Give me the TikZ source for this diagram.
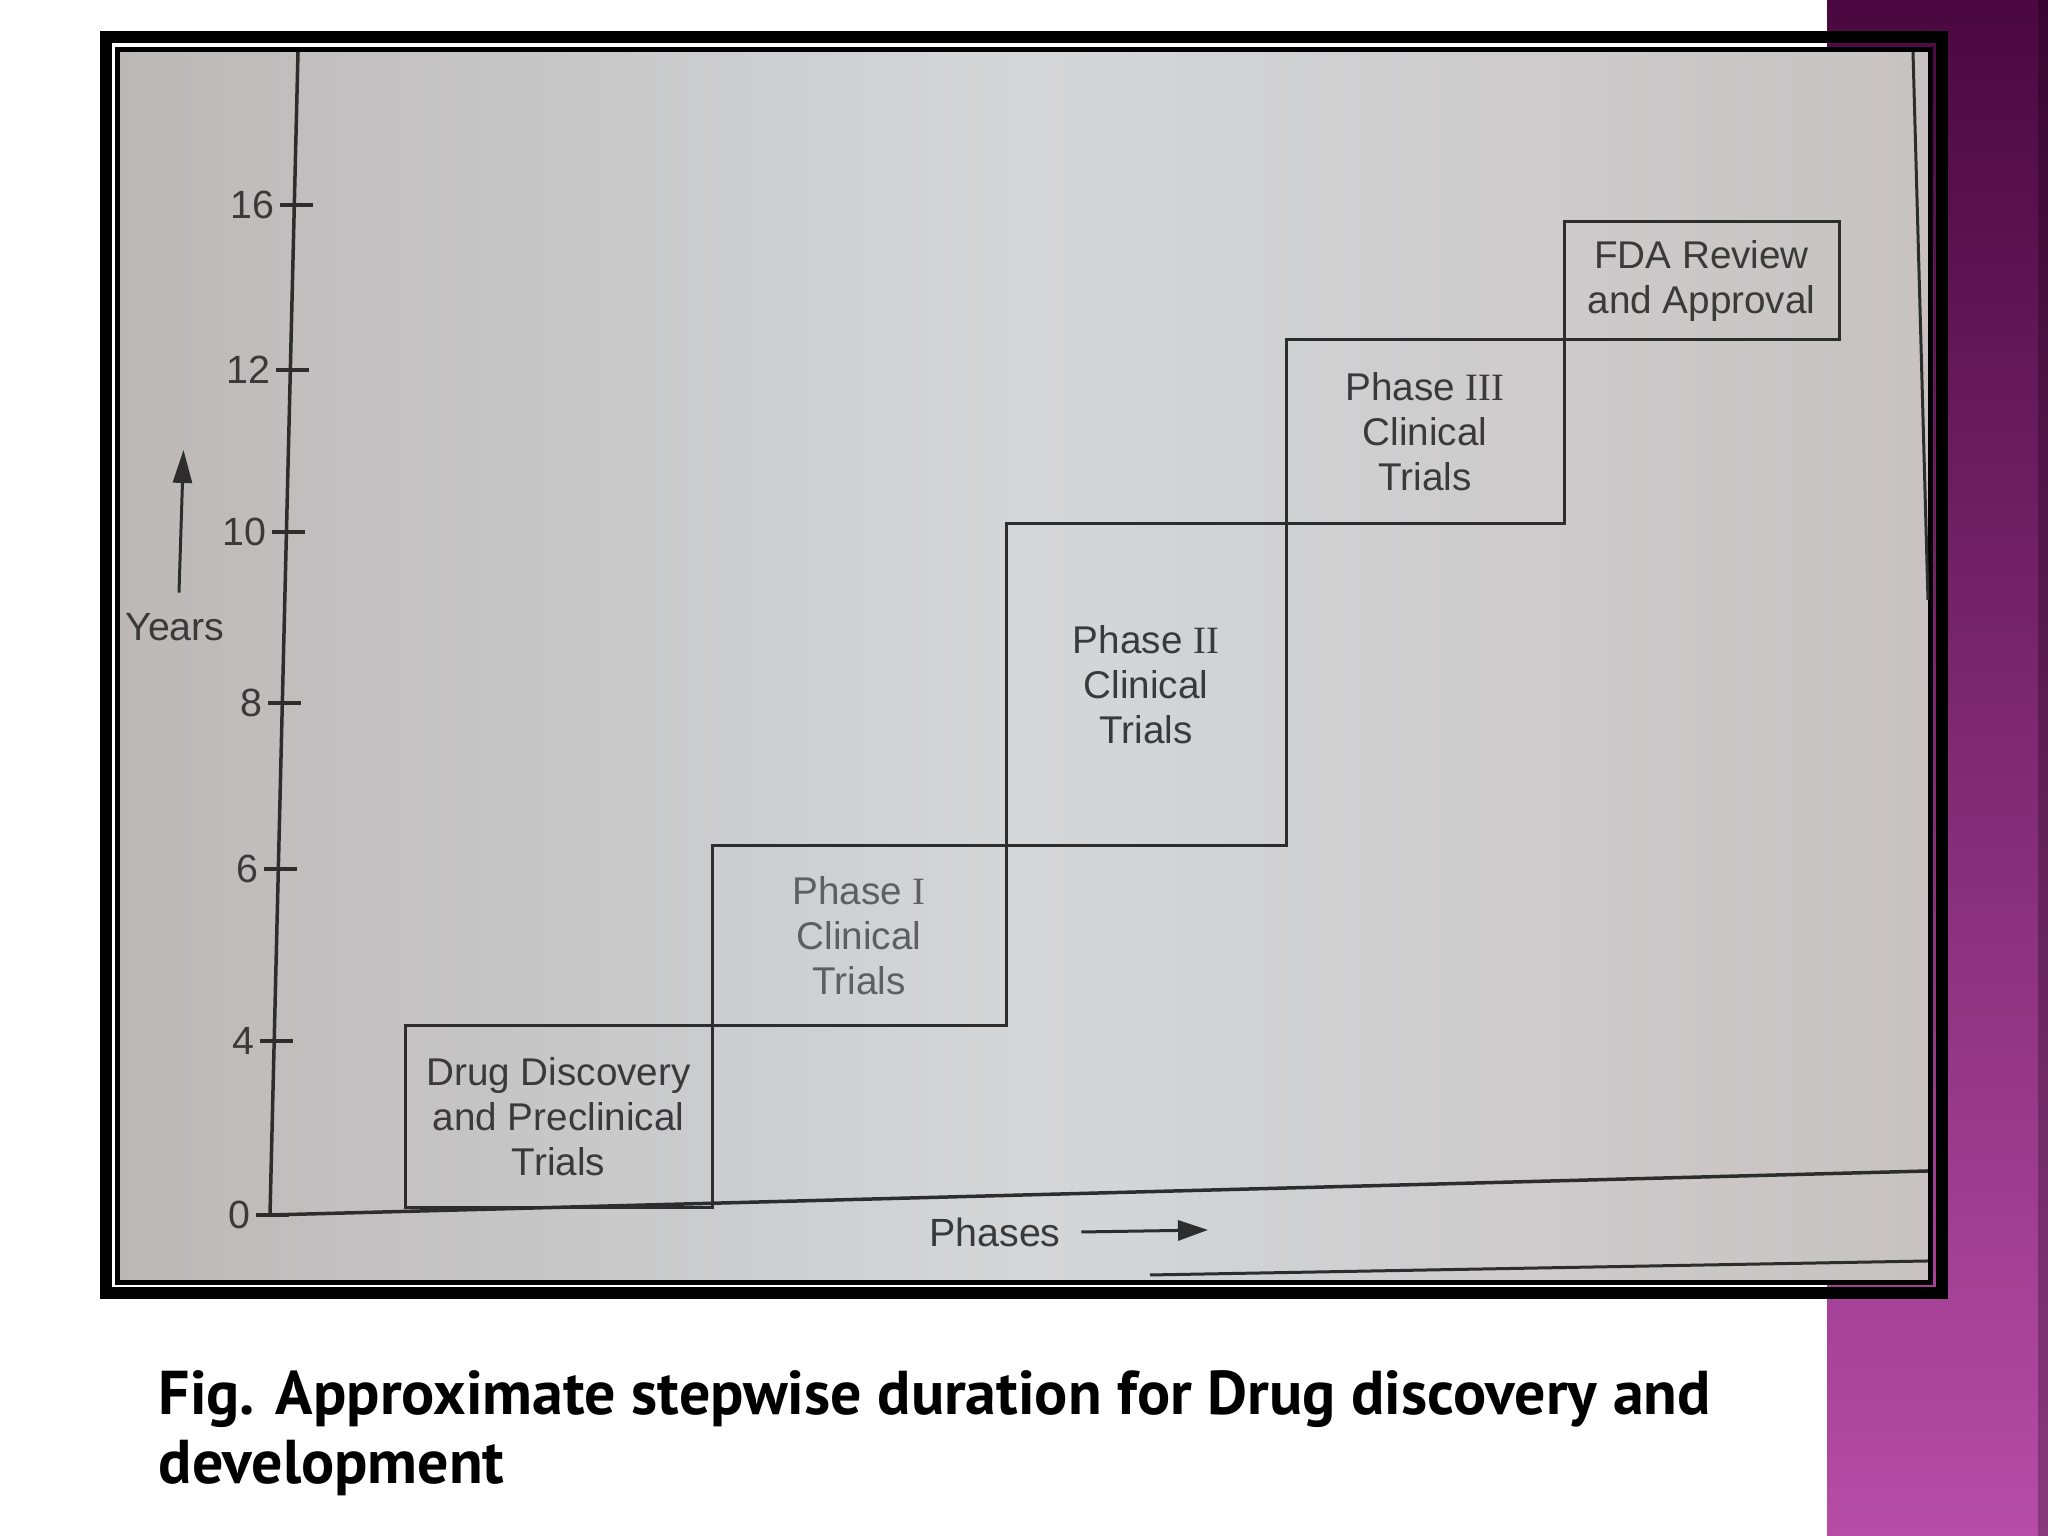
\documentclass[tikz,border=0pt]{standalone}
\usepackage{fontspec}
\setmainfont{Liberation Sans}
\newfontfamily\romfont{Liberation Serif}
\newfontfamily\capfont{PT Sans}
\usetikzlibrary{
  arrows.meta
}

\definecolor{inkline}{RGB}{45,45,45}
\definecolor{inktext}{RGB}{58,58,58}
\definecolor{inkpale}{RGB}{95,95,95}
\definecolor{photoL}{RGB}{188,184,184}
\definecolor{photoM}{RGB}{212,215,217}
\definecolor{photoR}{RGB}{200,194,194}
\definecolor{barTop}{RGB}{74,8,64}
\definecolor{barBot}{RGB}{182,76,166}

\newcommand{\rmnum}[1]{{\romfont #1}}

\tikzset{
  phasebox/.style={draw=inkline, line width=0.03cm, inner sep=0pt, outer sep=0pt,
    anchor=south west, align=center, text=inktext,
    font=\fontsize{11}{12.8}\selectfont},
  axislabel/.style={text=inktext, font=\fontsize{11.2}{13}\selectfont},
  axisline/.style={draw=inkline, line width=0.035cm}
}

\begin{document}
\begin{tikzpicture}[>=Stealth]
\useasboundingbox (0,0) rectangle (20.48,15.36);
\fill[white] (0,0) rectangle (20.48,15.36);

%--------------------
% 右の帯
%--------------------
\shade[top color=barTop, bottom color=barBot] (18.27,0) rectangle (20.48,15.36);
\fill[black, opacity=0.25] (20.38,0) rectangle (20.48,15.36);

%--------------------
% 写真の枠
%--------------------
\draw[line width=0.12cm] (1.06,14.99) rectangle (19.42,2.43);
\shade[left color=photoL, right color=photoR, middle color=photoM]
  (1.175,14.865) rectangle (19.305,2.535);
\draw[line width=0.05cm] (1.175,14.865) rectangle (19.305,2.535);

% 紙の端
\draw[inkline, line width=0.03cm] (19.13,14.84) -- (19.28,9.36);
\draw[inkline, line width=0.03cm] (11.5,2.61) -- (19.28,2.75);

%--------------------
% 座標軸
%--------------------
\coordinate (O) at (2.70,3.21);
\coordinate (ytop) at (2.98,14.84);
\coordinate (xend) at (19.28,3.65);
\draw[axisline] (ytop) -- (O) -- (xend);

% 目盛り
\foreach \val/\ty/\ax in {16/13.31/2.943, 12/11.66/2.903, 10/10.04/2.864,
                          8/8.33/2.823, 6/6.67/2.783, 4/4.95/2.742, 0/3.21/2.70}{
  \draw[axisline] (\ax-0.14,\ty) -- (\ax+0.19,\ty);
  \node[axislabel, anchor=east, inner sep=0pt] (tick\val) at (\ax-0.19,\ty) {\val};
}

% 軸ラベル
\node[axislabel, inner sep=0.2cm] (years) at (1.75,9.09) {Years};
\coordinate (ytip) at (1.835,10.86);
\draw[-{Triangle[length=0.33cm,width=0.19cm]}, inkline, line width=0.03cm]
  ([xshift=0.04cm]years.north) -- (ytip);

\node[axislabel, inner sep=0.2cm] (phases) at (9.95,3.04) {Phases};
\coordinate (ptip) at (12.08,3.06);
\draw[-{Triangle[length=0.3cm,width=0.2cm]}, inkline, line width=0.03cm]
  (phases.east) -- (ptip);

%--------------------
% 各段階
%--------------------
\node[phasebox, minimum width=3.07cm, minimum height=1.82cm]
  (disc) at (4.05,3.28) {Drug Discovery\\and Preclinical\\Trials};
\node[phasebox, minimum width=2.94cm, minimum height=1.80cm, text=inkpale]
  (ph1) at (disc.north east) {Phase \rmnum{I}\\Clinical\\Trials};
\node[phasebox, minimum width=2.80cm, minimum height=3.22cm]
  (ph2) at (ph1.north east) {Phase \rmnum{II}\\Clinical\\Trials};
\node[phasebox, minimum width=2.78cm, minimum height=1.84cm]
  (ph3) at (ph2.north east) {Phase \rmnum{III}\\Clinical\\Trials};
\node[phasebox, minimum width=2.75cm, minimum height=1.18cm]
  (fda) at (ph3.north east) {FDA Review\\and Approval};

%--------------------
% 図の説明
%--------------------
\node[anchor=north west, inner sep=0pt, align=left,
      font=\capfont\bfseries\fontsize{17.6}{19.6}\selectfont]
  (caption) at (1.58,1.66)
  {Fig. Approximate stepwise duration for Drug discovery and\\development};

\end{tikzpicture}
\end{document}
